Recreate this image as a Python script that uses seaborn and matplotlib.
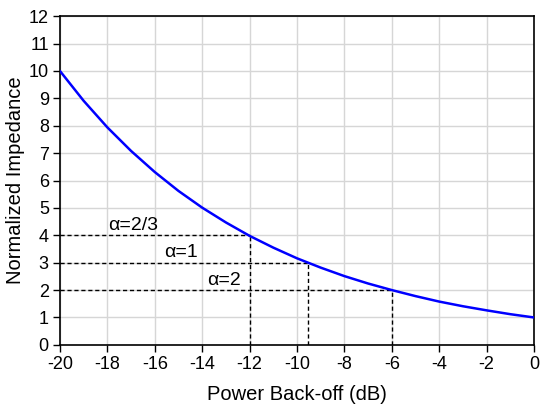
import matplotlib
matplotlib.use("Agg")
import matplotlib.pyplot as plt
import seaborn as sns
import pandas as pd

# 곡선 값
back_off_db = [-20, -19, -18, -17, -16, -15, -14, -13, -12, -11, -10,
               -9, -8, -7, -6, -5, -4, -3, -2, -1, 0]
impedance = [10.0, 8.91, 7.94, 7.08, 6.31, 5.62, 5.01, 4.47, 3.98, 3.55, 3.16,
             2.82, 2.51, 2.24, 2.0, 1.78, 1.58, 1.41, 1.26, 1.12, 1.0]

# 점선 표시점
alpha_labels = ["α=2/3", "α=1", "α=2"]
alpha_x = [-12.0, -9.54, -6.0]
alpha_z = [4, 3, 2]
label_x = [-16.9, -14.9, -13.1]
label_y = [4.34, 3.36, 2.34]

sns.set_style("white")
plt.rcParams["font.family"] = ["Liberation Sans", "DejaVu Sans"]
plt.rcParams["axes.unicode_minus"] = False
plt.rcParams["text.color"] = "black"
plt.rcParams["axes.labelcolor"] = "black"
plt.rcParams["xtick.color"] = "black"
plt.rcParams["ytick.color"] = "black"

fig = plt.figure(figsize=(5.5, 4.15), dpi=100)
ax = fig.add_axes([0.109, 0.169, 0.862, 0.792])

df = pd.DataFrame({"x": back_off_db, "z": impedance})
sns.lineplot(data=df, x="x", y="z", color="#0000ff", linewidth=1.8, ax=ax, zorder=5)

for xs, zs in zip(alpha_x, alpha_z):
    ax.plot([-20, xs], [zs, zs], color="black", linestyle=(0, (3, 2)), linewidth=1.0, zorder=4)
    ax.plot([xs, xs], [0, zs], color="black", linestyle=(0, (3, 2)), linewidth=1.0, zorder=4)

for txt, lx, ly in zip(alpha_labels, label_x, label_y):
    ax.text(lx, ly, txt, ha="center", va="center", fontsize=14)

ax.set_xlim(-20, 0)
ax.set_ylim(0, 12)
ax.set_xticks(range(-20, 1, 2))
ax.set_yticks(range(0, 13))
ax.grid(True, color="#d6d6d6", linewidth=1.0)
ax.set_axisbelow(True)
for sp in ax.spines.values():
    sp.set_color("black")
    sp.set_linewidth(1.2)
ax.tick_params(axis="both", direction="out", length=5, width=1.0, labelsize=13,
               bottom=True, left=True, color="black", labelcolor="black", pad=3)
ax.set_xlabel("Power Back-off (dB)", fontsize=14.5, labelpad=9)
ax.set_ylabel("Normalized Impedance", fontsize=14.5, labelpad=3)

fig.savefig("out.png", dpi=100)
